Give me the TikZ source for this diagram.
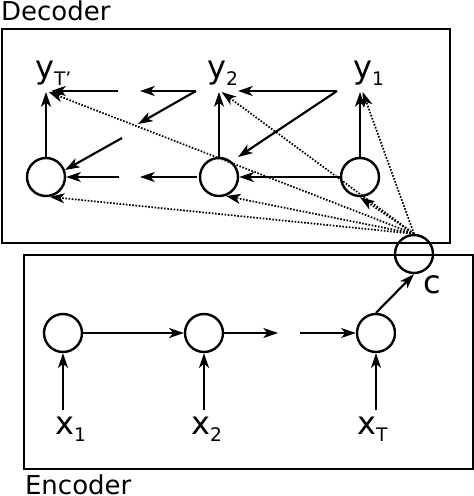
\documentclass[tikz,border=0pt]{standalone}
\usepackage{fontspec}
\setmainfont{DejaVu Sans}
\usetikzlibrary{arrows.meta}
\newcommand{\lab}[2]{#1\raisebox{-0.22em}{\fontsize{14}{14}\selectfont #2}}

\begin{document}
\begin{tikzpicture}[x=0.75pt, y=-0.75pt, >={Stealth[length=11pt, width=7.5pt, inset=3pt]}, line width=1.6pt,
    cell/.style={draw, circle, minimum size=28.5pt, inner sep=0pt, line width=1.8pt},
    lbl/.style={anchor=base west, inner sep=0pt, font=\fontsize{24}{24}\selectfont},
    title/.style={anchor=base west, inner sep=0pt, font=\fontsize{19.5}{19.5}\selectfont},
    ctx/.style={->, line width=1.3pt, dash pattern=on 1.2pt off 1.2pt}]
  \useasboundingbox (0,0) rectangle (474,496);
  % boxes
  \draw[line width=1.6pt] (2,29) rectangle (450,243);
  \draw[line width=1.6pt] (24,255) rectangle (473,469);
  \node[title] (dec) at (0,21) {Decoder};
  \node[title] (enc) at (24,494) {Encoder};

  % decoder
  \node[cell] (dT) at (46,177) {};
  \node[cell] (d2) at (219,177) {};
  \node[cell] (d1) at (360,177) {};
  \node[lbl] (yT) at (34,78) {\lab{y}{T'}};
  \node[lbl] (y2) at (206,78) {\lab{y}{2}};
  \node[lbl] (y1) at (352,78) {\lab{y}{1}};
  \coordinate (oT) at (46,92);
  \coordinate (o2) at (219,92);
  \coordinate (o1) at (360,92);
  \draw[->] (dT.north) -- (oT);
  \draw[->] (d2.north) -- (o2);
  \draw[->] (d1.north) -- (o1);

  \coordinate (a1) at (337,91);
  \coordinate (a2) at (238,91);
  \coordinate (a3) at (238,157);
  \coordinate (b1) at (196,91);
  \coordinate (b2) at (140,91);
  \coordinate (b3) at (138,124);
  \coordinate (c1) at (118,91);
  \coordinate (c2) at (51,91);
  \coordinate (c3) at (122,138);
  \coordinate (c4) at (65,170);
  \draw[->] (a1) -- (a2);
  \draw[->] (a1) -- (a3);
  \draw[->] (b1) -- (b2);
  \draw[->] (b1) -- (b3);
  \draw[->] (c1) -- (c2);
  \draw[->] (c3) -- (c4);

  \coordinate (g1) at (197,177);
  \coordinate (g2) at (140,177);
  \coordinate (g3) at (119,177);
  \draw[->] (d1) -- (d2);
  \draw[->, line width=1.2pt] (g1) -- (g2);
  \draw[->, line width=1.2pt] (g3) -- (dT);

  % encoder
  \node[cell] (e1) at (63,333) {};
  \node[cell] (e2) at (204,333) {};
  \node[cell] (e3) at (376,333) {};
  \node[cell] (c) at (414,254) {};
  \node[lbl] (x1) at (54,434) {\lab{x}{1}};
  \node[lbl] (x2) at (190,434) {\lab{x}{2}};
  \node[lbl] (xT) at (356,434) {\lab{x}{T}};
  \node[lbl] (cl) at (422,293) {c};
  \coordinate (i1) at (63,410);
  \coordinate (i2) at (204,410);
  \coordinate (i3) at (376,410);
  \coordinate (h1) at (278,333);
  \coordinate (h2) at (300,333);
  \draw[->] (i1) -- (e1);
  \draw[->] (i2) -- (e2);
  \draw[->] (i3) -- (e3);
  \draw[->] (e1) -- (e2);
  \draw[->, line width=1.1pt] (e2) -- (h1);
  \draw[->, line width=1.1pt] (h2) -- (e3);
  \draw[->] (e3.north) -- (c.south);

  % context
  \foreach \t in {oT, o2, o1}
    \draw[ctx] (c.north) -- ([xshift=2pt]\t);
  \draw[ctx] (c.north) -- (dT.-79);
  \draw[ctx] (c.north) -- (d2.-70);
  \draw[ctx] (c.north) -- (d1.south);
\end{tikzpicture}
\end{document}
